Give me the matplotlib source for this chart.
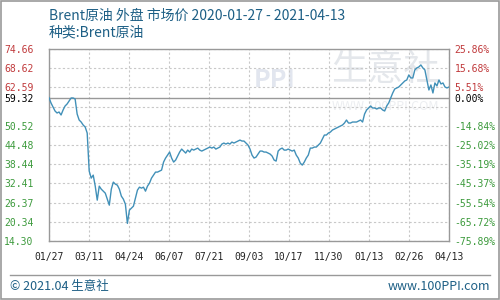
import numpy as np
import matplotlib.pyplot as plt
from matplotlib.patches import Rectangle
from matplotlib.lines import Line2D

plt.rcParams['font.family'] = ['Noto Sans CJK SC', 'DejaVu Sans']

## ================= DATOS =================
title = "Brent原油 外盘 市场价 2020-01-27 - 2021-04-13"
subtitle = "种类:Brent原油"

x_labels = ["01/27", "03/11", "04/24", "06/07", "07/21", "09/03",
            "10/17", "11/30", "01/13", "02/26", "04/13"]

base_price = 59.32
grid_levels = [74.66, 68.62, 62.59, 56.55, 50.52, 44.48, 38.44,
               32.41, 26.37, 20.34, 14.30]
left_labels = ["74.66", "68.62", "62.59", "59.32", "50.52", "44.48",
               "38.44", "32.41", "26.37", "20.34", "14.30"]
label_levels = [74.66, 68.62, 62.59, 59.32, 50.52, 44.48,
                38.44, 32.41, 26.37, 20.34, 14.30]
right_labels = ["25.86%", "15.68%", "5.51%", "0.00%", "-14.84%", "-25.02%",
                "-35.19%", "-45.37%", "-55.54%", "-65.72%", "-75.89%"]

prices = [
    59.32, 57.66, 56.40, 55.14, 54.51, 54.82, 53.88, 55.45, 56.71, 57.34,
    58.29, 59.23, 59.23, 58.91, 54.19, 52.30, 51.67, 50.73, 50.10, 48.21,
    36.24, 34.04, 34.98, 31.52, 27.11, 31.52, 30.57, 29.94, 29.31, 27.42,
    25.54, 30.57, 32.78, 32.15, 31.83, 30.57, 28.37, 27.42, 25.85, 19.80,
    23.96, 24.59, 25.22, 27.74, 30.26, 31.20, 30.89, 31.20, 29.94, 31.52,
    32.46, 34.04, 34.98, 35.93, 35.93, 36.24, 36.56, 39.08, 40.34, 41.28,
    42.23, 40.34, 39.08, 39.71, 40.97, 42.23, 43.17, 42.54, 41.91, 42.85,
    42.23, 43.17, 42.85, 43.17, 43.48, 42.85, 42.54, 42.85, 43.17, 43.48,
    43.80, 43.48, 43.80, 43.17, 43.48, 43.80, 44.74, 45.06, 44.74, 45.06,
    44.74, 45.37, 45.06, 45.37, 45.69, 46.00, 45.69, 45.69, 45.06, 44.43,
    43.17, 41.28, 40.34, 40.65, 41.60, 42.54, 42.54, 42.23, 42.23, 41.91,
    41.60, 40.97, 39.71, 39.39, 42.54, 43.17, 43.48, 42.85, 42.85, 43.17,
    42.85, 42.54, 42.85, 41.28, 40.34, 38.76, 38.13, 39.08, 40.34, 41.28,
    43.48, 43.48, 43.80, 43.80, 44.43, 45.06, 46.32, 47.58, 47.58, 48.21,
    48.52, 49.15, 49.47, 49.78, 50.10, 50.41, 50.73, 51.36, 52.30, 51.36,
    51.36, 51.67, 51.67, 51.67, 51.99, 52.30, 51.67, 54.19, 55.45, 56.08,
    56.71, 56.08, 56.08, 55.77, 56.08, 56.08, 55.45, 55.14, 56.71, 57.66,
    59.23, 60.80, 62.06, 62.38, 62.69, 63.32, 63.95, 64.58, 64.90, 66.47,
    65.53, 65.53, 68.05, 68.68, 68.99, 69.62, 68.68, 68.05, 64.90, 61.75,
    63.32, 60.80, 63.95, 63.01, 64.90, 63.64, 63.95, 62.69, 62.38, 62.69,
]

## ================= FIGURA =================
fig = plt.figure(figsize=(5, 3), dpi=100)
ax = fig.add_axes([0.098, 0.197, 0.800, 0.640])

x = np.linspace(0, len(x_labels) - 1, len(prices))
ax.set_xlim(0, len(x_labels) - 1)
ax.set_ylim(grid_levels[-1], grid_levels[0])

# rejilla punteada
for lvl in grid_levels:
    ax.axhline(lvl, color='#c8c8c8', lw=0.8, ls=(0, (2, 2)), zorder=1)
for i in range(len(x_labels)):
    ax.axvline(i, color='#c8c8c8', lw=0.8, ls=(0, (2, 2)), zorder=1)
ax.axhline(base_price, color='#999999', lw=1.0, zorder=2)

# marca de agua
ax.text(0.565, 0.84, "PPI", transform=ax.transAxes, fontsize=18,
        color='#e2e6ef', ha='center', va='center', fontweight='bold', zorder=0)
ax.text(0.84, 0.89, "生意社", transform=ax.transAxes, fontsize=26,
        color='#e4e7eb', ha='center', va='center', zorder=0)
ax.text(0.84, 0.70, "WWW.100PPI.COM", transform=ax.transAxes, fontsize=9,
        color='#eceef1', ha='center', va='center', zorder=0)

ax.plot(x, prices, color='#4190b8', lw=1.0, zorder=3)

for s in ax.spines.values():
    s.set_color('#999999')
    s.set_linewidth(1.0)

# etiquetas del eje
mono = 'DejaVu Sans Mono'
ax.set_xticks(range(len(x_labels)))
ax.set_xticklabels(x_labels, family=mono, fontsize=7, color='#222222')
ax.tick_params(axis='x', length=0, pad=8)

ax.set_yticks(label_levels)
ax.set_yticklabels(left_labels, family=mono, fontsize=7)
ax.tick_params(axis='y', length=0, pad=11)

def level_color(v):
    if v > base_price:
        return '#c0393b'
    if v < base_price:
        return '#3c9a3c'
    return '#000000'

for lbl, v in zip(ax.get_yticklabels(), label_levels):
    lbl.set_color(level_color(v))

ax2 = ax.twinx()
ax2.set_ylim(ax.get_ylim())
ax2.set_yticks(label_levels)
ax2.set_yticklabels(right_labels, family=mono, fontsize=7)
ax2.tick_params(axis='y', length=0, pad=4)
for lbl, v in zip(ax2.get_yticklabels(), label_levels):
    lbl.set_color(level_color(v))
for s in ax2.spines.values():
    s.set_visible(False)

# títulos
fig.text(0.098, 0.947, title, fontsize=10, color='#1d5f85', ha='left', va='center')
fig.text(0.098, 0.893, subtitle, fontsize=10, color='#1d5f85', ha='left', va='center')

# pie
fig.add_artist(Line2D([0.02, 0.98], [0.083, 0.083], color='#999999', lw=1.0))
fig.text(0.02, 0.045, "© 2021.04 生意社", fontsize=9, color='#1d5f85',
         ha='left', va='center')
fig.text(0.98, 0.045, "www.100PPI.com", fontsize=9, color='#1d5f85',
         ha='right', va='center')

fig.add_artist(Rectangle((0.001, 0.002), 0.997, 0.995, transform=fig.transFigure,
                         fill=False, edgecolor='#999999', lw=1.2))

fig.savefig('out.png', dpi=100)
